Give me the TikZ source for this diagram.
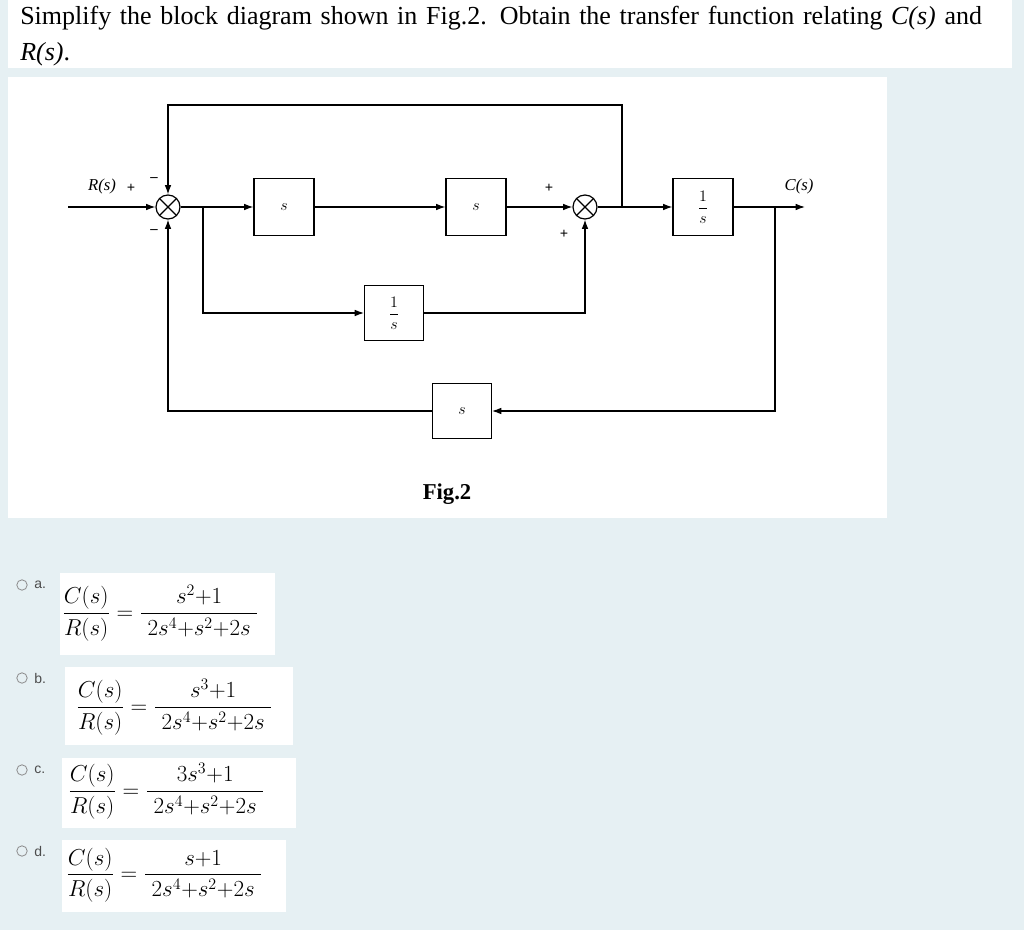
\documentclass[tikz,border=0pt]{standalone}
\usepackage{fontspec}
\setmainfont{Liberation Serif}
\newfontfamily\optfont{Liberation Sans}
\usepackage{amsmath}
\usetikzlibrary{arrows.meta}
\definecolor{bgc}{HTML}{E6F0F3}
\tikzset{
 blk/.style={draw,line width=0.9pt,minimum width=45pt,minimum height=43pt,inner sep=0pt,font=\fontsize{12}{13}\selectfont},
 sblk/.style={draw,line width=0.9pt,minimum width=44pt,minimum height=41pt,inner sep=0pt,font=\fontsize{12}{13}\selectfont},
 summ/.style={draw,circle,line width=0.9pt,minimum size=18pt,inner sep=0pt,path picture={\draw[line width=0.9pt] (path picture bounding box.south west)--(path picture bounding box.north east) (path picture bounding box.north west)--(path picture bounding box.south east);}},
 arr/.style={line width=0.9pt,-{Latex[length=7pt,width=5pt]}},
 sgn/.style={font=\fontsize{11}{12}\selectfont\bfseries,inner sep=0pt},
 ans/.style={anchor=west,inner sep=0pt,font=\fontsize{17}{19}\selectfont},
 lab/.style={font=\optfont\fontsize{10.5}{12}\selectfont,anchor=west,inner sep=0pt,text=black!70}
}
\begin{document}
\begin{tikzpicture}[x=0.75pt,y=-0.75pt]
\fill[bgc] (0,0) rectangle (1024,930);
\useasboundingbox (0,0) rectangle (1024,930);
\fill[white] (8,0) rectangle (1012,68);
\fill[white] (8,77) rectangle (887,518);
\fill[white] (60,573) rectangle (275,655);
\fill[white] (65,667) rectangle (293,745);
\fill[white] (62,758) rectangle (296,828);
\fill[white] (62,840) rectangle (286,912);
\node[anchor=north west,inner sep=0pt,text width=745pt,align=left,font=\fontsize{19.5}{27}\selectfont] (q) at (20,6) {Simplify the block diagram shown in Fig.2. Obtain the transfer function relating \textit{C(s)} and \textit{R(s)}.};
% diagram
\node[summ] (s1) at (168,207) {};
\node[blk] (b1) at (284,207) {$s$};
\node[blk] (b2) at (476,207) {$s$};
\node[summ] (s2) at (585,207) {};
\node[blk] (b3) at (703,207) {$\dfrac{1}{s}$};
\node[sblk] (b4) at (394,313) {$\dfrac{1}{s}$};
\node[sblk] (b5) at (462,411) {$s$};
\coordinate (in) at (68,207);
\coordinate (out) at (805,207);
\coordinate (tp) at (622,207);
\coordinate (bp) at (203,207);
\coordinate (op) at (775,207);
\draw[arr] (in) -- (s1);
\draw[arr] (s1) -- (b1);
\draw[arr] (b1) -- (b2);
\draw[arr] (b2) -- (s2);
\draw[arr] (s2) -- (b3);
\draw[arr] (b3) -- (out);
\draw[arr] (tp) -- (622,105) -- (168,105) -- (s1);
\draw[arr] (bp) |- (b4);
\draw[arr] (b4) -| (s2);
\draw[arr] (op) |- (b5);
\draw[arr] (b5) -| (s1);
\node[font=\fontsize{12.5}{13}\selectfont\itshape,inner sep=0pt] (rl) at (102,186) {R(s)};
\node[sgn] (p1) at (131,188) {+};
\node[sgn] (m1) at (154,180) {--};
\node[sgn] (m2) at (154,232) {--};
\node[sgn] (p2) at (549,188) {+};
\node[sgn] (p3) at (564,234) {+};
\node[font=\fontsize{12.5}{13}\selectfont\itshape,inner sep=0pt] (cl) at (799,186) {C(s)};
\node[font=\fontsize{17}{19}\selectfont\bfseries,inner sep=0pt] (fig) at (447,494) {Fig.2};
% answers
\foreach \y/\l [count=\i] in {585/a., 678/b., 770/c., 851/d.}{
 \draw[black!45,line width=0.6pt] (22,\y) circle (5.2);
 \node[lab] (l\i) at (34,\y) {\l};
}
\node[ans] (a1) at (62,613) {$\dfrac{C(s)}{R(s)}=\dfrac{\;s^2{+}1\;}{\;2s^4{+}s^2{+}2s\;}$};
\node[ans] (a2) at (76,707) {$\dfrac{C(s)}{R(s)}=\dfrac{\;s^3{+}1\;}{\;2s^4{+}s^2{+}2s\;}$};
\node[ans] (a3) at (68,791) {$\dfrac{C(s)}{R(s)}=\dfrac{\;3s^3{+}1\;}{\;2s^4{+}s^2{+}2s\;}$};
\node[ans] (a4) at (66,875) {$\dfrac{C(s)}{R(s)}=\dfrac{\;s{+}1\;}{\;2s^4{+}s^2{+}2s\;}$};
\end{tikzpicture}
\end{document}
